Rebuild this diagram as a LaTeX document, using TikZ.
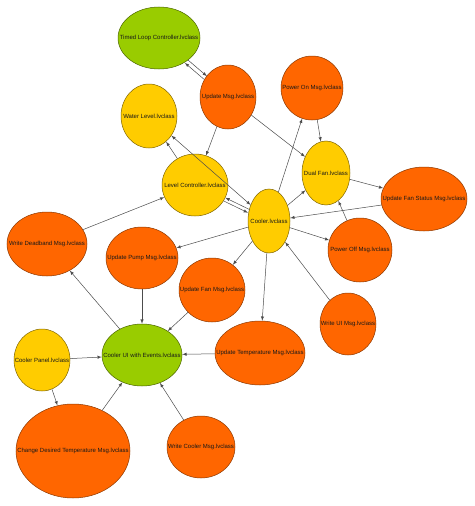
\documentclass[tikz,border=0pt]{standalone}
\usepackage{fontspec}
\setmainfont{Liberation Sans}
\usetikzlibrary{shapes.geometric}
\definecolor{orangecolor}{HTML}{FF6600}
\definecolor{yellowcolor}{HTML}{FFCC00}
\definecolor{greencolor}{HTML}{99CC00}
\newcommand{\clsname}[1]{\makebox[0pt]{#1}}
\tikzset{
 cls/.style={ellipse,inner sep=0pt,line width=0.5pt,text=black!90,font=\fontsize{6}{7}\selectfont},
 orangecls/.style={cls,fill=orangecolor,draw=orangecolor!55!black},
 yellowcls/.style={cls,fill=yellowcolor,draw=yellowcolor!50!black},
 greencls/.style={cls,fill=greencolor,draw=greencolor!50!black},
 link/.style={draw=black!70,line width=0.5pt,-latex}
}
\begin{document}
\begin{tikzpicture}[x=1pt,y=-1pt]
 \useasboundingbox[fill=white] (0,0) rectangle (474,506);
 \node [greencls,minimum width=82pt,minimum height=62pt] (tlc) at (159,38) {\clsname{Timed Loop Controller.lvclass}};
 \node [orangecls,minimum width=56pt,minimum height=64pt] (updmsg) at (228,97) {\clsname{Update Msg.lvclass}};
 \node [orangecls,minimum width=62pt,minimum height=64pt] (pwron) at (312,88) {\clsname{Power On Msg.lvclass}};
 \node [yellowcls,minimum width=56pt,minimum height=64pt] (water) at (149,116) {\clsname{Water Level.lvclass}};
 \node [yellowcls,minimum width=66pt,minimum height=62pt] (levelctl) at (195,185) {\clsname{Level Controller.lvclass}};
 \node [yellowcls,minimum width=48pt,minimum height=64pt] (dualfan) at (326,173) {\clsname{Dual Fan.lvclass}};
 \node [orangecls,minimum width=86pt,minimum height=64pt] (fanstatus) at (424,199) {\clsname{Update Fan Status Msg.lvclass}};
 \node [yellowcls,minimum width=42pt,minimum height=64pt] (cooler) at (269,221) {\clsname{Cooler.lvclass}};
 \node [orangecls,minimum width=80pt,minimum height=64pt] (deadband) at (47,244) {\clsname{Write Deadband Msg.lvclass}};
 \node [orangecls,minimum width=72pt,minimum height=62pt] (pump) at (142,258) {\clsname{Update Pump Msg.lvclass}};
 \node [orangecls,minimum width=64pt,minimum height=64pt] (pwroff) at (360,250) {\clsname{Power Off Msg.lvclass}};
 \node [orangecls,minimum width=66pt,minimum height=64pt] (fanmsg) at (212,290) {\clsname{Update Fan Msg.lvclass}};
 \node [orangecls,minimum width=56pt,minimum height=62pt] (writeui) at (348,324) {\clsname{Write UI Msg.lvclass}};
 \node [orangecls,minimum width=90pt,minimum height=64pt] (temp) at (260,353) {\clsname{Update Temperature Msg.lvclass}};
 \node [greencls,minimum width=80pt,minimum height=62pt] (coolerui) at (142,355) {\clsname{Cooler UI with Events.lvclass}};
 \node [yellowcls,minimum width=56pt,minimum height=62pt] (panel) at (42,360) {\clsname{Cooler Panel.lvclass}};
 \node [orangecls,minimum width=114pt,minimum height=94pt] (desired) at (73,451) {\clsname{Change Desired Temperature Msg.lvclass}};
 \node [orangecls,minimum width=68pt,minimum height=62pt] (writecooler) at (201,447) {\clsname{Write Cooler Msg.lvclass}};
 \draw [link,transform canvas={shift={(-1.5,1.5)}}] (updmsg) -- (tlc);
 \draw [link,transform canvas={shift={(1.5,-1.5)}}] (tlc) -- (updmsg);
 \draw [link] (updmsg) -- (levelctl);
 \draw [link] (updmsg) -- (dualfan);
 \draw [link] (levelctl) -- (water);
 \draw [link,latex-latex] (water) -- (cooler);
 \draw [link,transform canvas={shift={(0.8,-1.6)}}] (cooler) -- (levelctl);
 \draw [link,transform canvas={shift={(-0.8,1.6)}}] (levelctl) -- (cooler);
 \draw [link] (cooler) -- (pwron);
 \draw [link] (cooler) -- (dualfan);
 \draw [link] (pwron) -- (dualfan);
 \draw [link] (dualfan) -- (fanstatus);
 \draw [link] (fanstatus) -- (cooler);
 \draw [link] (pwroff) -- (dualfan);
 \draw [link] (cooler) -- (pwroff);
 \draw [link] (writeui) -- (cooler);
 \draw [link] (cooler) -- (temp);
 \draw [link] (cooler) -- (fanmsg);
 \draw [link] (cooler) -- (pump);
 \draw [link] (deadband) -- (levelctl);
 \draw [link] (coolerui) -- (deadband);
 \draw [link] (pump) -- (coolerui);
 \draw [link] (fanmsg) -- (coolerui);
 \draw [link] (temp) -- (coolerui);
 \draw [link] (panel) -- (coolerui);
 \draw [link] (panel) -- (desired);
 \draw [link] (desired) -- (coolerui);
 \draw [link] (writecooler) -- (coolerui);
\end{tikzpicture}
\end{document}
